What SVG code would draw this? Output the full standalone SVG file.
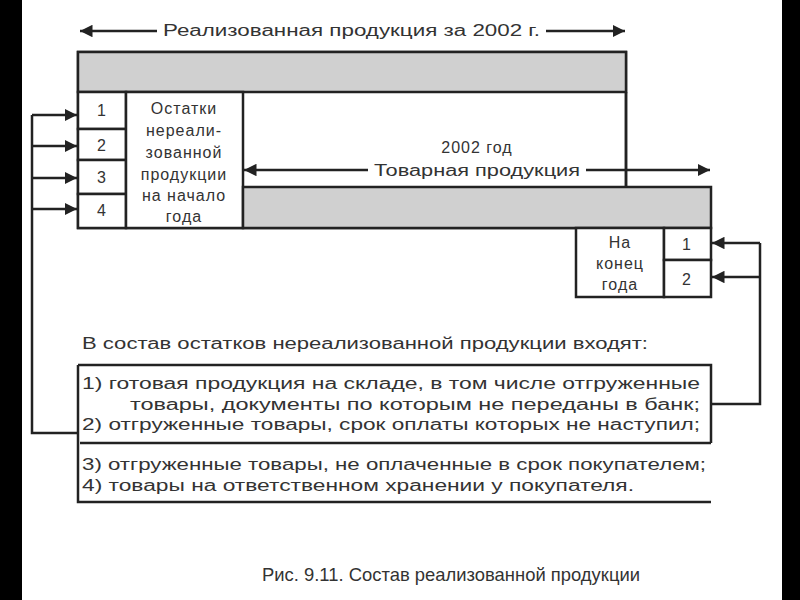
<svg xmlns="http://www.w3.org/2000/svg" width="800" height="600" viewBox="0 0 800 600">
<defs>
<style>
text{font-family:"Liberation Sans",Arial,sans-serif;fill:#333;}
.t{font-size:16px;text-anchor:middle;letter-spacing:1px;}
.l{font-size:16px;}
.ln{stroke:#222;stroke-width:2.5;fill:none;}
.box{stroke:#222;stroke-width:2.5;fill:#fff;}
.g{stroke:#222;stroke-width:2.5;fill:#d0d0d0;}
</style>
<marker id="a" viewBox="0 0 10 10" refX="10" refY="5" markerWidth="5" markerHeight="5" orient="auto"><path d="M0,0L10,5L0,10z" fill="#222"/></marker>
</defs>
<rect width="800" height="600" fill="#fff"/>
<rect x="0" y="0" width="22" height="600" fill="#000"/>
<rect x="782" y="0" width="18" height="600" fill="#000"/>
<g id="top">
<rect class="box" x="78" y="52" width="548" height="176"/>
<rect class="g" x="78" y="52" width="548" height="40"/>
<text class="l" x="163" y="36" textLength="377" lengthAdjust="spacingAndGlyphs">Реализованная продукция за 2002 г.</text>
</g>
<g id="left-cells">
<rect class="box" x="78" y="92" width="48" height="37"/><text class="t" x="102" y="116">1</text>
<rect class="box" x="78" y="129" width="48" height="31"/><text class="t" x="102" y="151">2</text>
<rect class="box" x="78" y="160" width="48" height="34"/><text class="t" x="102" y="183">3</text>
<rect class="box" x="78" y="194" width="48" height="34"/><text class="t" x="102" y="216">4</text>
<rect class="box" x="126" y="92" width="117" height="136"/>
<text class="t" x="184" y="114">Остатки</text><text class="t" x="184" y="136">нереали-</text><text class="t" x="184" y="158">зованной</text><text class="t" x="184" y="180">продукции</text><text class="t" x="184" y="201">на начало</text><text class="t" x="184" y="222">года</text>
</g>
<g id="commodity">
<rect class="g" x="243" y="187" width="468" height="41"/>
<text class="t" x="477" y="153">2002 год</text>
<text class="l" x="374" y="176" textLength="206" lengthAdjust="spacingAndGlyphs">Товарная продукция</text>
</g>
<g id="end-cells">
<rect class="box" x="576" y="228" width="88" height="69"/>
<text class="t" x="620" y="248">На</text><text class="t" x="620" y="269">конец</text><text class="t" x="620" y="290">года</text>
<rect class="box" x="664" y="228" width="47" height="32"/><text class="t" x="687" y="250">1</text>
<rect class="box" x="664" y="260" width="47" height="37"/><text class="t" x="687" y="285">2</text>
</g>
<g id="list">
<text class="l" x="82" y="349" textLength="566" lengthAdjust="spacingAndGlyphs">В состав остатков нереализованной продукции входят:</text>
<path class="ln" d="M78,365H711V443M80,443H711M78,365V502H711"/>
<text class="l" x="82" y="389" textLength="618" lengthAdjust="spacingAndGlyphs">1) готовая продукция на складе, в том числе отгруженные</text>
<text class="l" x="130" y="410" textLength="570" lengthAdjust="spacingAndGlyphs">товары, документы по которым не переданы в банк;</text>
<text class="l" x="82" y="430" textLength="618" lengthAdjust="spacingAndGlyphs">2) отгруженные товары, срок оплаты которых не наступил;</text>
<text class="l" x="82" y="470" textLength="624" lengthAdjust="spacingAndGlyphs">3) отгруженные товары, не оплаченные в срок покупателем;</text>
<text class="l" x="82" y="491" textLength="552" lengthAdjust="spacingAndGlyphs">4) товары на ответственном хранении у покупателя.</text>
</g>
<text x="262" y="581" style="font-size:19px" textLength="378" lengthAdjust="spacingAndGlyphs">Рис. 9.11. Состав реализованной продукции</text>
<g id="connectors">
<path class="ln" d="M157,31H80" marker-end="url(#a)"/>
<path class="ln" d="M546,31H625" marker-end="url(#a)"/>
<path class="ln" d="M626,92V187"/>
<path class="ln" d="M368,170H244" marker-end="url(#a)"/>
<path class="ln" d="M586,170H710" marker-end="url(#a)"/>
<path class="ln" d="M78,433H32V115"/>
<path class="ln" d="M32,115H77" marker-end="url(#a)"/>
<path class="ln" d="M32,146H77" marker-end="url(#a)"/>
<path class="ln" d="M32,178H77" marker-end="url(#a)"/>
<path class="ln" d="M32,209H77" marker-end="url(#a)"/>
<path class="ln" d="M711,404H760V243"/>
<path class="ln" d="M760,243H712" marker-end="url(#a)"/>
<path class="ln" d="M760,277H712" marker-end="url(#a)"/>
</g>
</svg>
